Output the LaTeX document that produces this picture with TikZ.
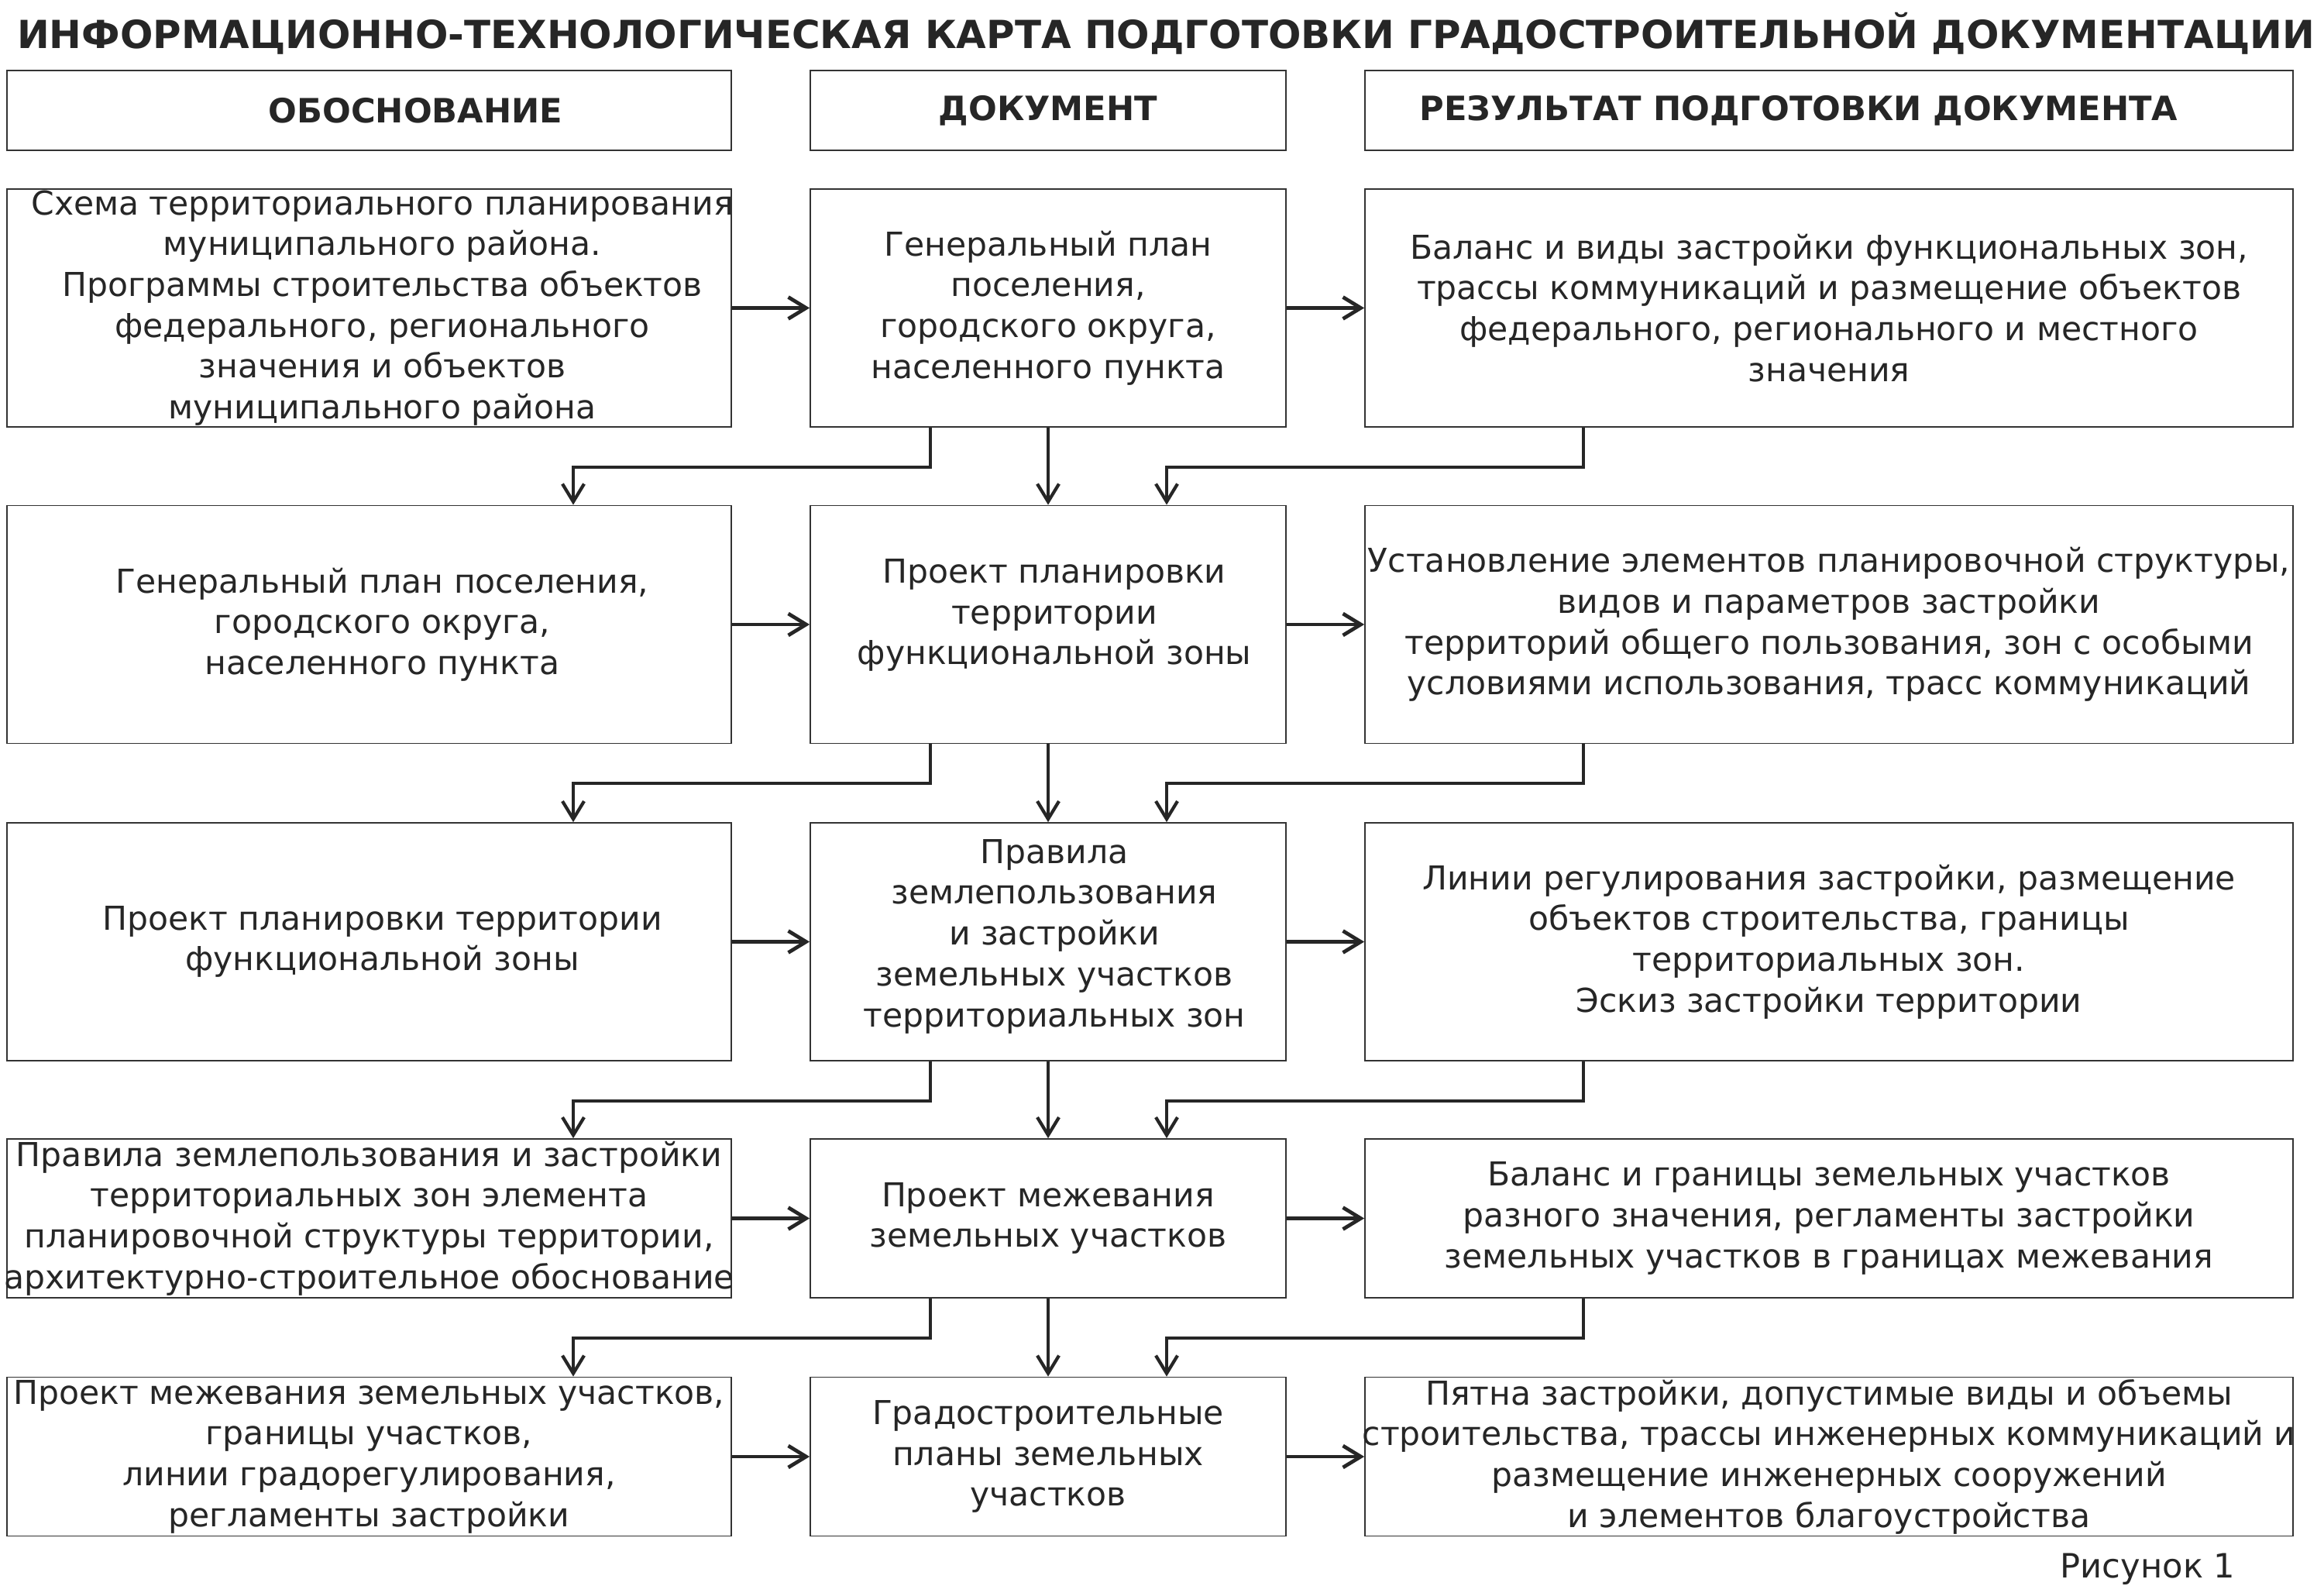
\documentclass[tikz,border=0pt]{standalone}
\usepackage{fontspec}
\setmainfont{DejaVu Sans}
\usetikzlibrary{arrows.meta,positioning}

\begin{document}
\begin{tikzpicture}[
    box/.style={draw=black!80, line width=0.5pt, align=center, inner sep=0pt, text=black!85, font=\fontsize{12.1}{15}\selectfont},
    lcol/.style={box, minimum width=9.35cm},
    mcol/.style={box, minimum width=6.14cm},
    rcol/.style={box, minimum width=11.98cm},
    tall/.style={minimum height=3.07cm},
    low/.style={minimum height=2.05cm},
    txt/.style={align=center, inner sep=0pt, text=black!85, font=\fontsize{12.1}{15}\selectfont},
    head/.style={inner sep=0pt, text=black!85, font=\fontsize{12.3}{14}\selectfont\bfseries},
    arrow/.style={-{Straight Barb[length=2.3mm,width=2.8mm]}, line width=1.2pt, black!85},
    harrow/.style={arrow, line width=1.35pt}
]
    \useasboundingbox (0,0) rectangle (30,20.46);

    % Title
    \node[inner sep=0pt, anchor=base, text=black!85, font=\fontsize{14.2}{18}\selectfont\bfseries] (title) at (15.05, 19.83)
        {ИНФОРМАЦИОННО-ТЕХНОЛОГИЧЕСКАЯ КАРТА ПОДГОТОВКИ ГРАДОСТРОИТЕЛЬНОЙ ДОКУМЕНТАЦИИ};

    % Column headers
    \node[lcol, minimum height=1.03cm] (hl) at (4.765, 19.035) {};
    \node[mcol, minimum height=1.03cm] (hm) at (13.53, 19.035) {};
    \node[rcol, minimum height=1.03cm] (hr) at (23.61, 19.035) {};
    \node[head] at ([xshift=0.6cm]hl.center) {ОБОСНОВАНИЕ};
    \node[head] at (hm.center) {ДОКУМЕНТ};
    \node[head] at ([xshift=-0.39cm]hr.center) {РЕЗУЛЬТАТ ПОДГОТОВКИ ДОКУМЕНТА};

    % Row 1
    \node[lcol, tall] (l1) at (4.765, 16.485) {};
    \node[txt] at ([xshift=0.17cm]l1.center) {Схема территориального планирования\\муниципального района.\\Программы строительства объектов\\федерального, регионального\\значения и объектов\\муниципального района};
    \node[mcol, tall] (m1) at (13.53, 16.485) {Генеральный план\\поселения,\\городского округа,\\населенного пункта};
    \node[rcol, tall] (r1) at (23.61, 16.485) {Баланс и виды застройки функциональных зон,\\трассы коммуникаций и размещение объектов\\федерального, регионального и местного\\значения};

    % Row 2
    \node[lcol, tall] (l2) at (4.765, 12.40) {};
    \node[txt] at ([xshift=0.17cm]l2.center) {Генеральный план поселения,\\городского округа,\\населенного пункта};
    \node[mcol, tall] (m2) at (13.53, 12.40) {};
    \node[txt] at ([xshift=0.08cm, yshift=0.12cm]m2.center) {Проект планировки\\территории\\функциональной зоны};
    \node[rcol, tall] (r2) at (23.61, 12.40) {};
    \node[txt] at (r2.center) {Установление элементов планировочной структуры,\\видов и параметров застройки\\территорий общего пользования, зон с особыми\\условиями использования, трасс коммуникаций};

    % Row 3
    \node[lcol, tall] (l3) at (4.765, 8.305) {};
    \node[txt] at ([xshift=0.17cm]l3.center) {Проект планировки территории\\функциональной зоны};
    \node[mcol, tall] (m3) at (13.53, 8.305) {};
    \node[txt] at ([xshift=0.08cm, yshift=0.07cm]m3.center) {Правила\\землепользования\\и застройки\\земельных участков\\территориальных зон};
    \node[rcol, tall] (r3) at (23.61, 8.305) {Линии регулирования застройки, размещение\\объектов строительства, границы\\территориальных зон.\\Эскиз застройки территории};

    % Row 4
    \node[lcol, low] (l4) at (4.765, 4.735) {};
    \node[txt] at (l4.center) {Правила землепользования и застройки\\территориальных зон элемента\\планировочной структуры территории,\\архитектурно-строительное обоснование};
    \node[mcol, low] (m4) at (13.53, 4.735) {Проект межевания\\земельных участков};
    \node[rcol, low] (r4) at (23.61, 4.735) {Баланс и границы земельных участков\\разного значения, регламенты застройки\\земельных участков в границах межевания};

    % Row 5
    \node[lcol, low] (l5) at (4.765, 1.66) {};
    \node[txt] at (l5.center) {Проект межевания земельных участков,\\границы участков,\\линии градорегулирования,\\регламенты застройки};
    \node[mcol, low] (m5) at (13.53, 1.66) {Градостроительные\\планы земельных\\участков};
    \node[rcol, low] (r5) at (23.61, 1.66) {};
    \node[txt] at (r5.center) {Пятна застройки, допустимые виды и объемы\\строительства, трассы инженерных коммуникаций и\\размещение инженерных сооружений\\и элементов благоустройства};

    % Arrows within rows
    \draw[harrow] (l1) -- (m1);  \draw[harrow] (m1) -- (r1);
    \draw[harrow] (l2) -- (m2);  \draw[harrow] (m2) -- (r2);
    \draw[harrow] (l3) -- (m3);  \draw[harrow] (m3) -- (r3);
    \draw[harrow] (l4) -- (m4);  \draw[harrow] (m4) -- (r4);
    \draw[harrow] (l5) -- (m5);  \draw[harrow] (m5) -- (r5);

    % Arrows between rows
    \draw[arrow] ([xshift=-1.52cm]m1.south) -- ++(0,-0.51) -| ([xshift=2.635cm]l2.north);
    \draw[arrow] (m1) -- (m2);
    \draw[arrow] ([xshift=-3.17cm]r1.south) -- ++(0,-0.51) -| ([xshift=1.53cm]m2.north);

    \draw[arrow] ([xshift=-1.52cm]m2.south) -- ++(0,-0.51) -| ([xshift=2.635cm]l3.north);
    \draw[arrow] (m2) -- (m3);
    \draw[arrow] ([xshift=-3.17cm]r2.south) -- ++(0,-0.51) -| ([xshift=1.53cm]m3.north);

    \draw[arrow] ([xshift=-1.52cm]m3.south) -- ++(0,-0.51) -| ([xshift=2.635cm]l4.north);
    \draw[arrow] (m3) -- (m4);
    \draw[arrow] ([xshift=-3.17cm]r3.south) -- ++(0,-0.51) -| ([xshift=1.53cm]m4.north);

    \draw[arrow] ([xshift=-1.52cm]m4.south) -- ++(0,-0.51) -| ([xshift=2.635cm]l5.north);
    \draw[arrow] (m4) -- (m5);
    \draw[arrow] ([xshift=-3.17cm]r4.south) -- ++(0,-0.51) -| ([xshift=1.53cm]m5.north);

    % Caption
    \node[inner sep=0pt, anchor=base east, text=black!85, font=\fontsize{12.3}{14}\selectfont] (fig) at (28.86, 0.10) {Рисунок 1};
\end{tikzpicture}
\end{document}
